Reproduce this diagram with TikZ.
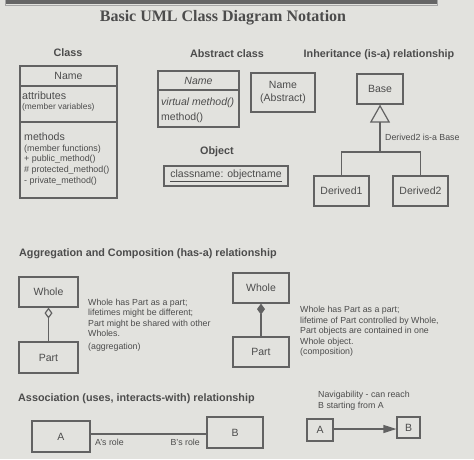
\documentclass[tikz,border=0pt]{standalone}
\usepackage{fontspec}
\setmainfont{Liberation Sans}
\newfontfamily\titlefont{Liberation Serif}
\usetikzlibrary{arrows.meta}
\definecolor{paper}{HTML}{E2E2DE}
\definecolor{ink}{HTML}{4C4C4C}
\definecolor{rule}{HTML}{626262}
\newcommand{\boxfont}{\fontsize{10.5}{12}\selectfont}
\newcommand{\headfont}{\fontsize{10.8}{12}\selectfont\bfseries}
\newcommand{\notefont}{\fontsize{8.8}{10.5}\selectfont}
\tikzset{
  umlbox/.style={draw=rule, line width=1.2pt, inner sep=0pt, text=ink, font=\boxfont},
  head/.style={text=ink, font=\headfont, inner sep=0pt},
  note/.style={text=ink, font=\notefont, inner sep=0pt, align=left},
  link/.style={draw=rule, line width=1.2pt}
}
\begin{document}
\begin{tikzpicture}[x=1pt,y=-1pt]
  \useasboundingbox (0,0) rectangle (474,459);
  \fill[paper] (0,0) rectangle (474,459);
  \fill[black!60] (5,0) rectangle (437,4);
  \draw[black!35, line width=1pt] (5,0) -- (5,5) -- (437,5) -- (437,0);
  \node[text=ink, font=\titlefont\fontsize{16}{18}\selectfont\bfseries] (title) at (223,18) {Basic UML Class Diagram Notation};

  % headings
  \node[head] (hclass) at (68,53) {Class};
  \node[head] (habs) at (227,54) {Abstract class};
  \node[head] (hinh) at (379,55) {Inheritance (is-a) relationship};
  \node[head] (hobj) at (217,152) {Object};
  \node[head, anchor=west] (hagg) at (19,254) {Aggregation and Composition (has-a) relationship};
  \node[head, anchor=west] (hass) at (18,399) {Association (uses, interacts-with) relationship};

  % class
  \draw[link] (20,66) rectangle (117,198);
  \draw[link] (20,86) -- (117,86);
  \draw[link] (20,122) -- (117,122);
  \node[text=ink, font=\boxfont] (cname) at (68.5,76) {Name};
  \node[text=ink, font=\fontsize{10.7}{12}\selectfont, anchor=west, inner sep=0pt] (cattr) at (22,96) {attributes};
  \node[text=ink, font=\fontsize{8.4}{10}\selectfont, anchor=west, inner sep=0pt] (cvar) at (22,107.5) {(member variables)};
  \node[text=ink, font=\fontsize{10.6}{12}\selectfont, anchor=west, inner sep=0pt] (cmeth) at (24,137) {methods};
  \node[note, font=\fontsize{8.9}{10.7}\selectfont, anchor=north west] (cfun) at (24,144.5) {(member functions)\\+ public\_method()\\\# protected\_method()\\- private\_method()};

  % abstract class
  \draw[link] (158,71) rectangle (239,127);
  \draw[link] (158,90) -- (239,90);
  \node[text=ink, font=\boxfont\itshape] (aname) at (198.5,81) {Name};
  \node[text=ink, font=\boxfont\itshape, anchor=west, inner sep=0pt] (avirt) at (161,103) {virtual method()};
  \node[text=ink, font=\boxfont, anchor=west, inner sep=0pt] (ameth) at (161,118) {method()};
  \node[umlbox, minimum width=64pt, minimum height=39pt, align=center] (abs2) at (283,92.5) {Name\\[1pt](Abstract)};

  % object
  \node[umlbox, minimum width=124pt, minimum height=20pt] (obj) at (226,176) {\underline{classname: objectname}};

  % inheritance
  \node[umlbox, minimum width=46pt, minimum height=30pt] (base) at (380,89) {Base};
  \node[umlbox, minimum width=55pt, minimum height=30pt] (der1) at (341.5,191) {Derived1};
  \node[umlbox, minimum width=55pt, minimum height=30pt] (der2) at (420.5,191) {Derived2};
  \coordinate (fork) at (380,152);
  \draw[link, -{Triangle[open, length=18pt, width=20pt, line width=1.2pt]}] (fork) -- (base.south);
  \draw[link] (der1.north) |- (fork) -| (der2.north);
  \node[note, anchor=west] (isa) at (385,137) {Derived2 is-a Base};

  % aggregation
  \node[umlbox, minimum width=59pt, minimum height=30pt] (wholeA) at (48.5,292) {Whole};
  \node[umlbox, minimum width=59pt, minimum height=31pt] (partA) at (48.5,357.5) {Part};
  \draw[link, {Diamond[open, length=11pt, width=8pt, line width=1.2pt]}-] (wholeA.south) -- (partA.north);
  \node[note, anchor=north west] (aggtxt) at (88,298.5) {Whole has Part as a part;\\lifetimes might be different;\\Part might be shared with other\\Wholes.\\[2pt](aggregation)};

  % composition
  \node[umlbox, minimum width=56pt, minimum height=30pt] (wholeC) at (261,288) {Whole};
  \node[umlbox, minimum width=56pt, minimum height=30pt] (partC) at (261,352) {Part};
  \draw[link, {Diamond[length=11pt, width=8pt]}-] (wholeC.south) -- (partC.north);
  \node[note, anchor=north west] (comptxt) at (300,306) {Whole has Part as a part;\\lifetime of Part controlled by Whole,\\Part objects are contained in one\\Whole object.\\(composition)};

  % association
  \node[umlbox, minimum width=58pt, minimum height=31pt] (assA) at (61,436.5) {A};
  \node[umlbox, minimum width=56pt, minimum height=31pt] (assB) at (235,432.5) {B};
  \draw[link] (assA.east |- 0,434) coordinate (ra) -- (assB.west |- 0,434) coordinate (rb);
  \node[note, anchor=west] (rolea) at (95,442) {A's role};
  \node[note, anchor=east] (roleb) at (200,442) {B's role};

  % navigability
  \node[note, anchor=north west] (navtxt) at (318,391) {Navigability - can reach\\B starting from A};
  \node[umlbox, minimum width=26pt, minimum height=22pt] (navA) at (320,430) {A};
  \node[umlbox, minimum width=23pt, minimum height=21pt] (navB) at (408.5,427.5) {B};
  \draw[link, -{Triangle[length=13pt, width=8pt]}] (navA.east |- 0,429) -- (navB.west |- 0,429);
\end{tikzpicture}
\end{document}
